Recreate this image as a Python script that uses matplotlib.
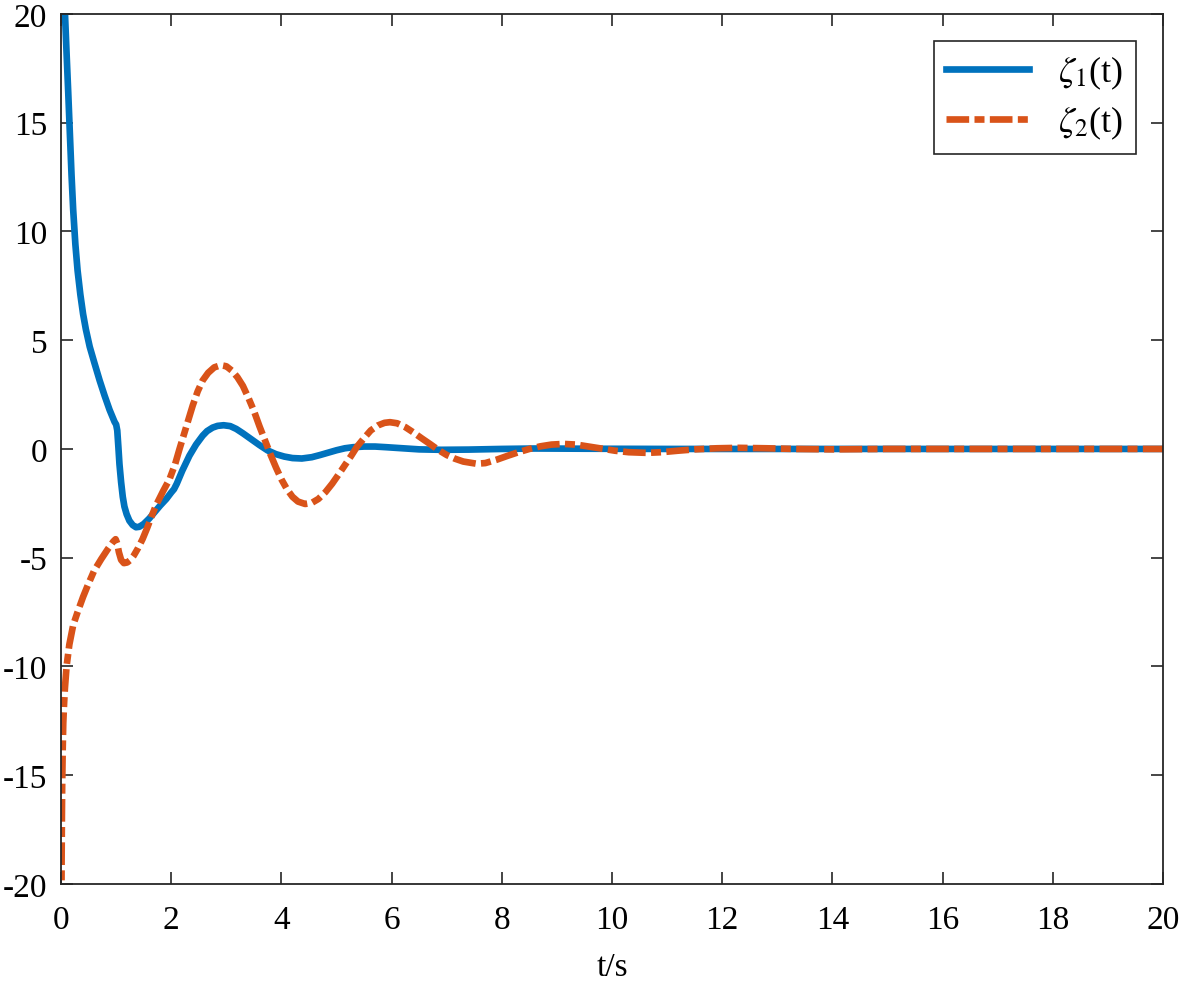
import numpy as np
import matplotlib
matplotlib.use("Agg")
import matplotlib.pyplot as plt

# data
t1 = [0.0, 0.04, 0.073, 0.1, 0.13, 0.16, 0.19, 0.22, 0.26, 0.3, 0.35, 0.4, 0.45,
      0.52, 0.6, 0.7, 0.79, 0.88, 0.97, 1.0, 1.02, 1.04, 1.06, 1.09, 1.12, 1.15,
      1.19, 1.24, 1.30, 1.36, 1.42, 1.5, 1.6, 1.7, 1.8, 1.91, 2.0, 2.05, 2.1, 2.2,
      2.33, 2.45, 2.57, 2.65, 2.75, 2.84, 2.95, 3.07, 3.18, 3.3, 3.45, 3.6, 3.75,
      3.9, 4.05, 4.2, 4.37, 4.55, 4.7, 4.85, 5.0, 5.15, 5.3, 5.5, 5.7, 5.9, 6.2,
      6.5, 6.9, 7.4, 8.0, 8.6, 9.5, 11.0, 20.0]
z1 = [24.5, 22.0, 19.9, 18.2, 16.4, 14.5, 12.6, 11.0, 9.4, 8.2, 7.1, 6.2, 5.5,
      4.7, 4.0, 3.15, 2.45, 1.8, 1.25, 1.12, 0.85, 0.1, -0.7, -1.53, -2.2, -2.65,
      -3.0, -3.3, -3.5, -3.6, -3.58, -3.45, -3.2, -2.9, -2.6, -2.3, -2.0, -1.85, -1.6, -1.0,
      -0.31, 0.2, 0.61, 0.82, 0.98, 1.06, 1.09, 1.05, 0.92, 0.72, 0.45, 0.18, -0.07,
      -0.24, -0.35, -0.42, -0.44, -0.38, -0.28, -0.17, -0.06, 0.03, 0.08, 0.11, 0.11, 0.08, 0.03,
      -0.02, -0.04, -0.03, 0.0, 0.02, 0.01, 0.0, 0.0]

t2 = [0.0, 0.005, 0.01, 0.015, 0.02, 0.03, 0.04, 0.055, 0.07, 0.1, 0.15, 0.22, 0.30,
      0.4, 0.48, 0.6, 0.73, 0.85, 0.95, 0.99, 1.02, 1.05, 1.09, 1.14, 1.2, 1.26, 1.32,
      1.40, 1.48, 1.56, 1.64, 1.72, 1.85, 1.97, 2.07, 2.15, 2.27, 2.39, 2.48, 2.57,
      2.67, 2.78, 2.9, 3.0, 3.1, 3.2, 3.3, 3.4, 3.5, 3.6, 3.7, 3.8, 3.9, 4.0, 4.1,
      4.2, 4.3, 4.43, 4.55, 4.67, 4.8, 4.92, 5.03, 5.15, 5.27, 5.37, 5.5, 5.62, 5.75,
      5.87, 5.97, 6.1, 6.25, 6.4, 6.55, 6.7, 6.85, 7.0, 7.15, 7.3, 7.54, 7.7, 7.9,
      8.1, 8.3, 8.5, 8.7, 8.9, 9.12, 9.35, 9.6, 9.85, 10.05, 10.3, 10.63, 10.9, 11.2,
      11.5, 11.9, 12.3, 12.8, 13.3, 14.0, 15.0, 20.0]
z2 = [-30.0, -22.0, -19.0, -17.0, -15.5, -13.8, -12.6, -11.7, -11.0, -10.0, -9.0, -8.1, -7.5,
      -6.8, -6.3, -5.6, -5.06, -4.6, -4.25, -4.15, -4.35, -4.75, -5.1, -5.25, -5.22, -5.1, -4.9,
      -4.55, -4.14, -3.65, -3.12, -2.61, -1.95, -1.38, -0.7, 0.0, 1.0, 2.0, 2.65, 3.15,
      3.5, 3.75, 3.85, 3.8, 3.6, 3.3, 2.9, 2.35, 1.75, 1.05, 0.4, -0.25, -0.85, -1.4, -1.85,
      -2.2, -2.42, -2.53, -2.48, -2.3, -1.98, -1.6, -1.2, -0.75, -0.3, 0.1, 0.5, 0.85, 1.08,
      1.2, 1.23, 1.18, 1.0, 0.75, 0.48, 0.22, -0.05, -0.28, -0.45, -0.58, -0.68, -0.65, -0.5,
      -0.32, -0.15, 0.0, 0.12, 0.2, 0.23, 0.2, 0.1, 0.0, -0.08, -0.15, -0.18, -0.15, -0.08,
      -0.02, 0.03, 0.05, 0.03, 0.0, -0.02, 0.0, 0.0]

xticks = np.arange(0, 21, 2)
yticks = np.arange(-20, 21, 5)

plt.rcParams['font.family'] = ['Liberation Serif', 'DejaVu Serif']
plt.rcParams['mathtext.fontset'] = 'stix'
plt.rcParams['axes.unicode_minus'] = False

fig = plt.figure(figsize=(11.81, 9.95), dpi=100)
ax = fig.add_axes([0.0517, 0.1106, 0.9331, 0.8744])

ax.plot(t1, z1, color='#0072BD', lw=4.8, label=r'$\zeta_1$(t)')
ax.plot(t2, z2, color='#D95319', lw=4.8, dashes=(3.4, 0.8, 1.5, 0.8),
        dash_capstyle='butt', label=r'$\zeta_2$(t)')

ax.set_xlim(0, 20)
ax.set_ylim(-20, 20)
ax.set_xticks(xticks)
ax.set_yticks(yticks)
ax.tick_params(direction='in', length=8.5, width=1.2, colors='#262626',
               labelcolor='black', labelsize=24, top=True, right=True)
ax.tick_params(axis='y', pad=10)
ax.tick_params(axis='x', pad=15)
for s in ax.spines.values():
    s.set_linewidth(1.3)
    s.set_color('#262626')

ax.set_xlabel('t/s', fontsize=24, labelpad=12)

leg = ax.legend(loc='upper right', fontsize=26, handlelength=2.3,
                handletextpad=0.8, borderaxespad=0.75, fancybox=False,
                framealpha=1, edgecolor='#262626', borderpad=0.35,
                labelspacing=0.35)
leg.get_frame().set_linewidth(1.2)

fig.savefig('out.png', dpi=100)
